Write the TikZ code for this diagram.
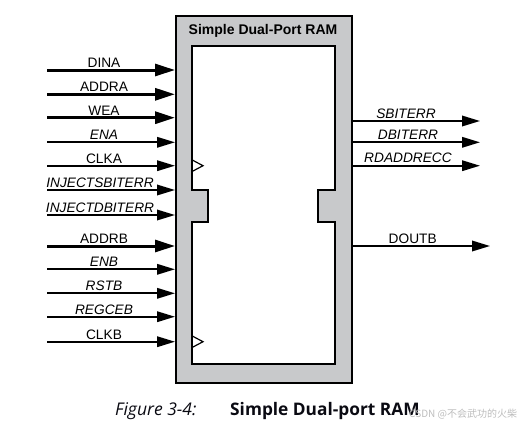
\documentclass[tikz,border=0pt]{standalone}
\usepackage{fontspec}
\setmainfont{Liberation Sans}
\newfontfamily\capfont{Open Sans}
\newfontfamily\cjkfont{Noto Sans CJK SC}
\usetikzlibrary{arrows.meta}
\definecolor{boxgrey}{HTML}{C8C9CB}
\definecolor{wmgrey}{HTML}{BDBDBD}
\definecolor{capcol}{HTML}{0A0A12}
\tikzset{
  sig/.style={line width=1.8pt,-{Triangle[length=18pt,width=10.5pt]}},
  bus/.style={line width=3pt,-{Triangle[length=20pt,width=12pt]}},
  lbl/.style={anchor=base,inner sep=0pt,font=\fontsize{13.7}{14}\selectfont},
  ilbl/.style={anchor=base,inner sep=0pt,font=\fontsize{13.7}{14}\selectfont\itshape},
  clk/.style={line width=1.2pt,line join=miter},
}
\begin{document}
\begin{tikzpicture}[x=1pt,y=-1pt]
\useasboundingbox (0,0) rectangle (519,432);
% outer block
\node[draw,line width=2pt,fill=boxgrey,minimum width=176pt,minimum height=367pt,
      anchor=north west,inner sep=0pt] (ram) at (175,15) {};
\node[anchor=base,inner sep=0pt,font=\bfseries\fontsize{14}{16}\selectfont] (title) at (263,34) {Simple Dual-Port RAM};
% inner block with notches
\draw[line width=2pt,fill=white,line join=miter]
  (191.7,46) -- (335,46) -- (335,190) -- (317.7,190) -- (317.7,222) -- (335,222)
  -- (335,364) -- (191.7,364) -- (191.7,222) -- (207.7,222) -- (207.7,190)
  -- (191.7,190) -- cycle;
% clock triangles
\draw[clk] (191.7,159.7) -- (203,165.7) -- (191.7,171.7);
\draw[clk] (191.7,335.7) -- (203,341.7) -- (191.7,347.7);
% inputs
\foreach \y/\t/\s/\f/\c in {70/DINA/bus/lbl/104, 94.3/ADDRA/bus/lbl/104,
  117.7/WEA/bus/lbl/104, 142.3/ENA/sig/ilbl/104, 165.7/CLKA/sig/lbl/104,
  190/INJECTSBITERR/sig/ilbl/100, 215/INJECTDBITERR/sig/ilbl/100,
  246/ADDRB/bus/lbl/104, 269.3/ENB/sig/ilbl/104, 293.3/RSTB/sig/ilbl/104,
  316.7/REGCEB/sig/ilbl/104, 341.7/CLKB/sig/lbl/104}{
  \coordinate (s-\t) at (47,\y);
  \coordinate (e-\t) at (175,\y);
  \draw[\s] (s-\t) -- (e-\t);
  \node[\f] (l-\t) at (\c,\y-2.5) {\t};
}
% outputs
\foreach \y/\t/\f/\c/\x in {121/SBITERR/ilbl/406/480, 142.3/DBITERR/ilbl/408/480,
  165.7/RDADDRECC/ilbl/408/480, 246/DOUTB/lbl/412.7/490}{
  \coordinate (o-\t) at (351,\y);
  \coordinate (t-\t) at (\x,\y);
  \draw[sig] (o-\t) -- (t-\t);
  \node[\f] (m-\t) at (\c,\y-3) {\t};
}
% caption
\node[anchor=base west,inner sep=0pt,text=capcol,font=\capfont\itshape\fontsize{17.5}{20}\selectfont] (fig) at (115,415) {Figure 3-4:};
\node[anchor=base west,inner sep=0pt,text=capcol,font=\capfont\bfseries\fontsize{17.3}{20}\selectfont] (cap) at (230,415) {Simple Dual-port RAM};
\node[anchor=base west,inner sep=0pt,text=wmgrey,font=\cjkfont\fontsize{10}{12}\selectfont] (wm) at (409,417) {CSDN @不会武功的火柴};
\end{tikzpicture}
\end{document}
